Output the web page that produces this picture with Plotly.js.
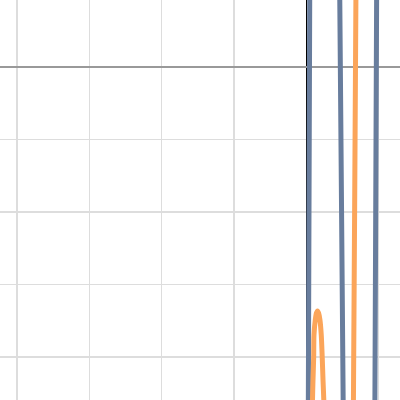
<!DOCTYPE html>
<html>
<head>
<meta charset="utf-8">
<script src="https://cdn.plot.ly/plotly-3.0.1.min.js"></script>
<style>html,body{margin:0;padding:0;background:#fff;}#chart{width:400px;height:400px;}</style>
</head>
<body>
<div id="chart"></div>
<script>
// Blue curve (grid units)
const blueX = [0.026, 0.028, 0.048, 0.049, 0.25, 0.458, 0.463, 0.511, 0.515, 0.73, 0.946, 0.949, 0.972, 0.975];
const blueY = [-5.2, -4.593, 0.924, 1.5, 4.0, 1.5, 0.924, -4.593, -5.2, -9.0, -5.2, -4.593, 0.924, 1.5];

// Orange curve (grid units)
const orangeX = [0.079, 0.0856, 0.0925, 0.102, 0.106, 0.124, 0.140, 0.155, 0.170, 0.189, 0.207, 0.220, 0.231, 0.242, 0.253, 0.45, 0.648, 0.652, 0.686, 0.69];
const orangeY = [-5.007, -4.593, -4.317, -4.0, -3.697, -3.490, -3.395, -3.366, -3.395, -3.490, -3.697, -4.0, -4.317, -4.593, -5.007, -9.0, -5.0, -4.593, 0.924, 1.5];

const xRange = [-4.237, 1.296];
const yRange = [-4.593, 0.924];

const traces = [
  {x: blueX, y: blueY, mode: 'lines', line: {color: '#687d9d', width: 5}, hoverinfo: 'skip'},
  {x: orangeX, y: orangeY, mode: 'lines', line: {color: '#fba55a', width: 5, shape: 'spline', smoothing: 0.8}, hoverinfo: 'skip'}
];

const layout = {
  width: 400, height: 400,
  margin: {l: 0, r: 0, t: 0, b: 0, pad: 0},
  paper_bgcolor: '#ffffff', plot_bgcolor: '#ffffff',
  showlegend: false,
  xaxis: {range: xRange, dtick: 1, tick0: 0, showticklabels: false, ticks: '',
          showgrid: true, gridcolor: '#dddddd', gridwidth: 1.3,
          zeroline: true, zerolinecolor: '#000000', zerolinewidth: 1.5, showline: false, fixedrange: true},
  yaxis: {range: yRange, dtick: 1, tick0: 0, showticklabels: false, ticks: '',
          showgrid: true, gridcolor: '#dddddd', gridwidth: 1.3,
          zeroline: true, zerolinecolor: '#999999', zerolinewidth: 1.8, showline: false, fixedrange: true}
};

Plotly.newPlot('chart', traces, layout, {staticPlot: true, displayModeBar: false});
</script>
</body>
</html>
